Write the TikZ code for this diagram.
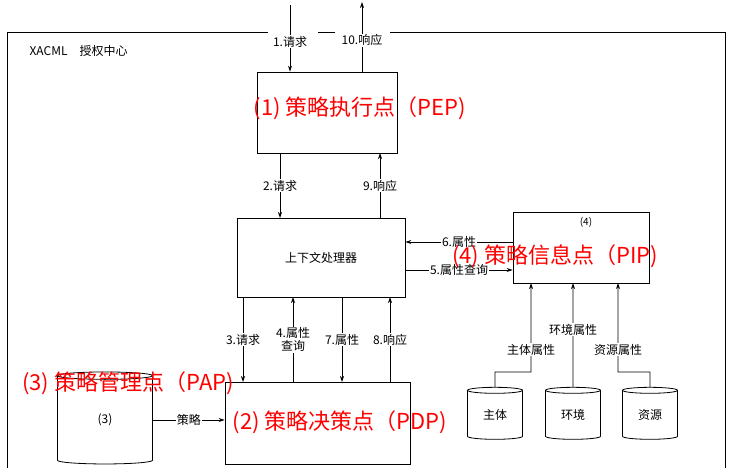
\documentclass[tikz,border=0pt]{standalone}
\usepackage{fontspec}
\setmainfont{Liberation Serif}
\newfontfamily\cjk{Noto Sans CJK SC}
\usetikzlibrary{shapes.geometric,arrows.meta}
\begin{document}
\begin{tikzpicture}[x=1pt,y=-1pt,
  box/.style={draw,thick,inner sep=0pt},
  db/.style={draw,thick,cylinder,shape border rotate=90,aspect=0.25,minimum width=55pt,minimum height=52pt,inner sep=0pt,font=\cjk\fontsize{12}{12}\selectfont},
  lab/.style={font=\cjk\fontsize{12}{13}\selectfont,fill=white,inner sep=1pt},
  red/.style={text=red,font=\cjk\fontsize{22}{22}\selectfont,inner sep=0pt},
  arr/.style={thick,-{Stealth[length=6pt,width=4pt]}}]
\useasboundingbox (0,0) rectangle (743,467);
\fill[white] (0,0) rectangle (743,467);
% frame
\draw[thick] (7,475) -- (7,32) -- (268,32);
\draw[thick] (318,32) -- (335,32);
\draw[thick] (390,32) -- (725,32) -- (725,475);
\node[font=\cjk\fontsize{12}{12}\selectfont,anchor=west] (title) at (26,51) {XACML\quad 授权中心};
% boxes
\node[box,minimum width=140pt,minimum height=81pt] (pep) at (327,112.5) {};
\node[box,minimum width=168pt,minimum height=79pt] (ch) at (321,257.5) {\cjk\fontsize{12}{12}\selectfont 上下文处理器};
\node[box,minimum width=136pt,minimum height=71pt] (pip) at (581,247.5) {};
\node[font=\cjk\fontsize{10}{10}\selectfont] (pipn) at (586,222) {(4)};
\node[box,minimum width=185pt,minimum height=82pt] (pdp) at (317.5,423) {};
\node[db,aspect=0.5,minimum width=95pt,minimum height=92pt] (pap) at (105,420) {(3)};
\node[db] (sub) at (495,415) {主体};
\node[db] (env) at (573,415) {环境};
\node[db] (res) at (650,415) {资源};
% external
\coordinate (in1) at (290,5);
\coordinate (out10) at (362,2);
\draw[arr] (in1) -- (in1 |- pep.north) node[lab,pos=0.55] {1.请求};
\draw[arr] (out10 |- pep.north) -- (out10) node[lab,pos=0.45] {10.响应};
\draw[arr] (280,153) -- (280,218) node[lab,midway] {2.请求};
\draw[arr] (380,218) -- (380,153) node[lab,midway] {9.响应};
\draw[arr] (pip.west |- 0,242) -- (ch.east |- 0,242) node[lab,midway] {6.属性};
\draw[arr] (ch.east |- 0,270) -- (pip.west |- 0,270) node[lab,midway] {5.属性查询};
\draw[arr] (243,297) -- (243,382) node[lab,pos=0.5] {3.请求};
\draw[arr] (293,382) -- (293,297) node[lab,pos=0.5,align=center] {4.属性\\查询};
\draw[arr] (342,297) -- (342,382) node[lab,pos=0.5] {7.属性};
\draw[arr] (390,382) -- (390,297) node[lab,pos=0.5] {8.响应};
\draw[arr] (pap.east |- 0,420) -- (pdp.west |- 0,420) node[lab,midway] {策略};
\draw[arr] (sub.north) -- (495,372) -- (531,372) -- (531,283) node[lab,pos=0.25] {主体属性};
\draw[arr] (env.north) -- (573,283) node[lab,pos=0.55] {环境属性};
\draw[arr] (res.north) -- (650,372) -- (618,372) -- (618,283) node[lab,pos=0.25] {资源属性};
% red labels
\node[red] (r1) at (360,108) {(1) 策略执行点（PEP)};
\node[red] (r4) at (555,256) {(4) 策略信息点（PIP)};
\node[red] (r3) at (128,383) {(3) 策略管理点（PAP)};
\node[red] (r2) at (340,422) {(2) 策略决策点（PDP)};
\end{tikzpicture}
\end{document}
